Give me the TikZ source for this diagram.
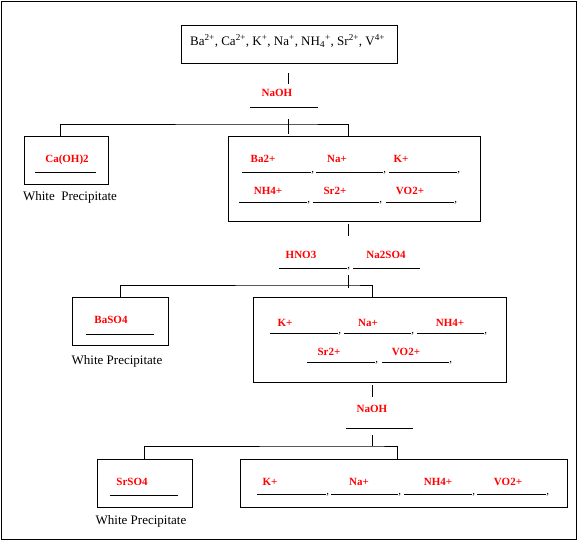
\documentclass[tikz,border=0pt]{standalone}
\usepackage{fontspec}
\setmainfont{Liberation Serif}
\tikzset{
  link/.style = {black, line width=0.9pt},
  ionbox/.style = {rectangle, draw=black, line width=0.9pt, inner sep=0pt},% boite
  ion/.style = {red, inner sep=0pt,
    font=\fontsize{11}{13}\selectfont\bfseries},% ion ou reactif, rouge
  blank/.style = {black, line width=0.9pt},% ligne a remplir
  comma/.style = {anchor=base west, inner sep=0pt,
    font=\fontsize{11}{13}\selectfont},
  note/.style = {inner sep=0pt, font=\fontsize{13}{15}\selectfont}
}

\begin{document}
\begin{tikzpicture}[x=1pt, y=-1pt]
  \useasboundingbox (0,0) rectangle (578,541);
  \draw[link] (1,1) rectangle (576,539);

  % melange de depart
  \node[ionbox, minimum width=216, minimum height=38] (mix) at (289,44) {};
  \node[note, anchor=west] (mixtext) at (190,41)
    {Ba\textsuperscript{2+}, Ca\textsuperscript{2+}, K\textsuperscript{+},
     Na\textsuperscript{+}, NH\textsubscript{4}\textsuperscript{+},
     Sr\textsuperscript{2+}, V\textsuperscript{4+}};

  % etape 1 : NaOH
  \coordinate (cut1a) at (288,73);
  \coordinate (cut1b) at (288,84);
  \draw[link] (cut1a) -- (cut1b);
  \node[ion] (naoh1) at (277,93) {NaOH};
  \draw[blank] (250,107) -- (318,107);
  \coordinate (stem1a) at (288,119);
  \coordinate (stem1b) at (288,134);
  \coordinate (fork1) at (288,124);
  \draw[link] (stem1a) -- (stem1b);

  \node[ionbox, minimum width=84, minimum height=48] (caoh) at (66,160) {};
  \node[ion] (caohlbl) at (67,160) {Ca(OH)2};
  \draw[blank] (35,172) -- (96,172);
  \node[note] (white1) at (70,197) {White\ \ Precipitate};

  \node[ionbox, minimum width=252, minimum height=85] (rest1) at (354,178.5) {};
  \draw[link] ([xshift=-6]caoh.north) |- (fork1) -| ([xshift=-6]rest1.north);
  \node[ion] (ba1) at (263,159) {Ba2+};
  \draw[blank] (242,172) -- (311,172) node[comma] {,};
  \node[ion] (na1) at (337,159) {Na+};
  \draw[blank] (316,172) -- (383,172) node[comma] {,};
  \node[ion] (k1) at (401,159) {K+};
  \draw[blank] (389,172) -- (457,172) node[comma] {,};
  \node[ion] (nh1) at (268,191) {NH4+};
  \draw[blank] (239,202) -- (307,202) node[comma] {,};
  \node[ion] (sr1) at (335,191) {Sr2+};
  \draw[blank] (313,202) -- (379,202) node[comma] {,};
  \node[ion] (vo1) at (410,191) {VO2+};
  \draw[blank] (386,202) -- (454,202) node[comma] {,};

  % etape 2 : HNO3, Na2SO4
  \coordinate (cut2a) at (348,224);
  \coordinate (cut2b) at (348,236);
  \draw[link] (cut2a) -- (cut2b);
  \node[ion] (hno3) at (301,255) {HNO3};
  \draw[blank] (279,268) -- (347,268) node[comma] {,};
  \node[ion] (na2so4) at (386,255) {Na2SO4};
  \draw[blank] (353,268) -- (420,268);
  \coordinate (stem2a) at (348,275);
  \coordinate (stem2b) at (348,288);
  \coordinate (fork2) at (348,285);
  \draw[link] (stem2a) -- (stem2b);

  \node[ionbox, minimum width=96, minimum height=48] (baso4) at (120,321) {};
  \node[ion] (baso4lbl) at (111,320) {BaSO4};
  \draw[blank] (86,334) -- (154,334);
  \node[note] (white2) at (117,361) {White Precipitate};

  \node[ionbox, minimum width=253, minimum height=85] (rest2) at (379.5,339.5) {};
  \draw[link] (baso4.north) |- (fork2) -| ([xshift=-7.5]rest2.north);
  \node[ion] (k2) at (285,323) {K+};
  \draw[blank] (270,333) -- (338,333) node[comma] {,};
  \node[ion] (na2) at (368,323) {Na+};
  \draw[blank] (344,333) -- (411,333) node[comma] {,};
  \node[ion] (nh2) at (450,323) {NH4+};
  \draw[blank] (417,333) -- (484,333) node[comma] {,};
  \node[ion] (sr2) at (329,352) {Sr2+};
  \draw[blank] (307,362) -- (375,362) node[comma] {,};
  \node[ion] (vo2) at (406,352) {VO2+};
  \draw[blank] (382,362) -- (449,362) node[comma] {,};

  % etape 3 : NaOH
  \coordinate (cut3a) at (372,385);
  \coordinate (cut3b) at (372,397);
  \draw[link] (cut3a) -- (cut3b);
  \node[ion] (naoh2) at (372,409) {NaOH};
  \draw[blank] (346,428) -- (413,428);
  \coordinate (stem3a) at (372,435);
  \coordinate (fork3) at (372,446);
  \draw[link] (stem3a) -- (fork3);

  \node[ionbox, minimum width=95, minimum height=48] (srso4) at (144.5,483) {};
  \node[ion] (srso4lbl) at (132,482) {SrSO4};
  \draw[blank] (110,495) -- (178,495);
  \node[note] (white3) at (141,521) {White Precipitate};

  \node[ionbox, minimum width=327, minimum height=48] (rest3) at (403.5,483) {};
  \draw[link] (srso4.north) |- (fork3) -| ([xshift=-6.5]rest3.north);
  \node[ion] (k3) at (270,482) {K+};
  \draw[blank] (257,494) -- (326,494) node[comma] {,};
  \node[ion] (na3) at (359,482) {Na+};
  \draw[blank] (331,494) -- (398,494) node[comma] {,};
  \node[ion] (nh3) at (438,482) {NH4+};
  \draw[blank] (404,494) -- (472,494) node[comma] {,};
  \node[ion] (vo3) at (508,482) {VO2+};
  \draw[blank] (477,494) -- (546,494) node[comma] {,};
\end{tikzpicture}
\end{document}
